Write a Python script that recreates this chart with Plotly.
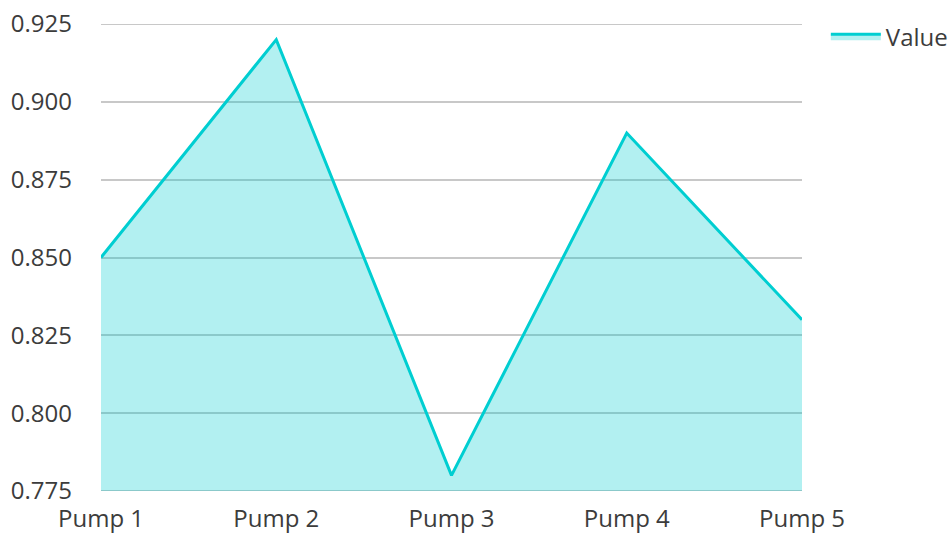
import plotly.graph_objects as go

categories = ["Pump 1", "Pump 2", "Pump 3", "Pump 4", "Pump 5"]
values = [0.85, 0.92, 0.78, 0.89, 0.83]
tick_vals = [0.775, 0.800, 0.825, 0.850, 0.875, 0.900, 0.925]
tick_text = ["0.775", "0.800", "0.825", "0.850", "0.875", "0.900", "0.925"]

grid_color = "#c8c8c8"

fig = go.Figure()
fig.add_trace(go.Scatter(
    x=categories, y=values, name="Value", mode="lines",
    line=dict(color="#00CED1", width=3),
    fill="tozeroy", fillcolor="rgba(0,206,209,0.3)",
))
# edge gridlines (plotly drops gridlines exactly at range ends)
for v in (tick_vals[0], tick_vals[-1]):
    fig.add_shape(type="line", xref="paper", yref="y", x0=0, x1=1, y0=v, y1=v,
                  line=dict(color=grid_color, width=2), layer="below")

fig.update_layout(
    width=951, height=533,
    margin=dict(l=101, r=149, t=24, b=42, autoexpand=False),
    plot_bgcolor="white", paper_bgcolor="white",
    font=dict(family="Open Sans", size=24, color="#3c3c3c"),
    showlegend=True,
    legend=dict(x=1.034, y=1.021, yanchor="top", font=dict(size=24), itemwidth=50),
)
fig.update_xaxes(showgrid=False, zeroline=False, showline=False, ticks="",
                 range=[0, 4], ticklabelstandoff=11, automargin=False,
                 ticklabeloverflow="allow")
fig.update_yaxes(range=[tick_vals[0], tick_vals[-1]], tickvals=tick_vals, ticktext=tick_text,
                 showgrid=True, gridcolor=grid_color, gridwidth=2,
                 zeroline=False, showline=False, ticks="", ticklabelstandoff=28,
                 automargin=False, ticklabeloverflow="allow")
fig.write_html("out.html", config={"displayModeBar": False},
               post_script="document.body.style.margin='0';document.body.style.overflow='hidden';")
